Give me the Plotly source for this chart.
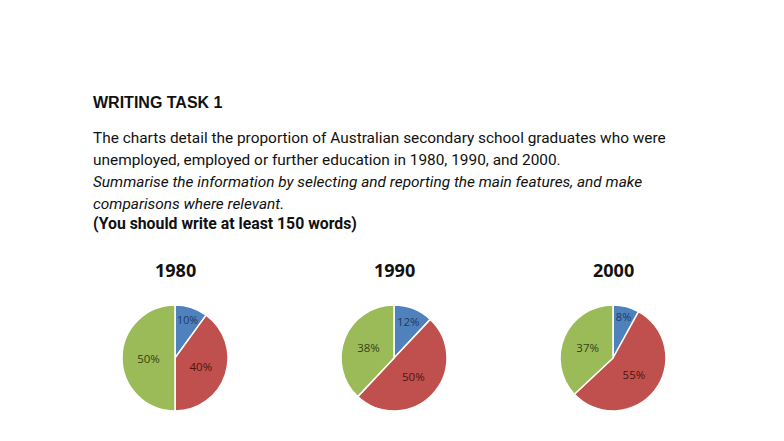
import plotly.graph_objects as go

years = ["1980", "1990", "2000"]
categories = ["Unemployed", "Employed", "Further education"]
values_1980 = [10, 40, 50]
values_1990 = [12, 50, 38]
values_2000 = [8, 55, 37]
all_values = [values_1980, values_1990, values_2000]

slice_colors = ["#4F81BD", "#C0504D", "#9BBB59"]
text_colors = ["#1F3A60", "#4E1512", "#344216"]

W, H = 784, 441
centers_x = [175, 394, 613]
center_y = 358
radius = 53

fig = go.Figure()
for yr, vals, cx in zip(years, all_values, centers_x):
    fig.add_trace(go.Pie(
        labels=categories, values=vals, sort=False, direction="clockwise",
        rotation=0,
        marker=dict(colors=slice_colors, line=dict(color="#FFFFFF", width=1.5)),
        textinfo="percent", texttemplate="%{value}%",
        textposition="inside", insidetextorientation="horizontal",
        textfont=dict(family="Open Sans", size=11.5, color=text_colors),
        domain=dict(x=[(cx - radius) / W, (cx + radius) / W],
                    y=[(H - center_y - radius) / H, (H - center_y + radius) / H]),
        showlegend=False, hoverinfo="label+percent",
    ))
    fig.add_annotation(text="<b>" + yr + "</b>", x=cx / W, y=(H - 270) / H,
                       xref="paper", yref="paper", showarrow=False,
                       xanchor="center", yanchor="middle",
                       font=dict(family="Open Sans", size=18, color="#111111"))

fig.add_annotation(text="<b>WRITING TASK 1</b>", x=91 / W, y=(H - 102) / H,
                   xref="paper", yref="paper", showarrow=False,
                   xanchor="left", yanchor="middle",
                   font=dict(family="Liberation Sans", size=16, color="#111111"))

lines = [
    ("The charts detail the proportion of Australian secondary school graduates who were", 138, 15.4),
    ("unemployed, employed or further education in 1980, 1990, and 2000.", 160, 15.4),
    ("<i>Summarise the information by selecting and reporting the main features, and make</i>", 182, 15.4),
    ("<i>comparisons where relevant.</i>", 204, 15.4),
    ("<b>(You should write at least 150 words)</b>", 223, 15.8),
]
for txt, y, fs in lines:
    fig.add_annotation(text=txt, x=91 / W, y=(H - y) / H, xref="paper", yref="paper",
                       showarrow=False, xanchor="left", yanchor="middle",
                       font=dict(family="Roboto", size=fs, color="#111111"))

fig.update_layout(width=W, height=H, margin=dict(l=0, r=0, t=0, b=0),
                  paper_bgcolor="white", plot_bgcolor="white")
fig.write_html("out.html")
